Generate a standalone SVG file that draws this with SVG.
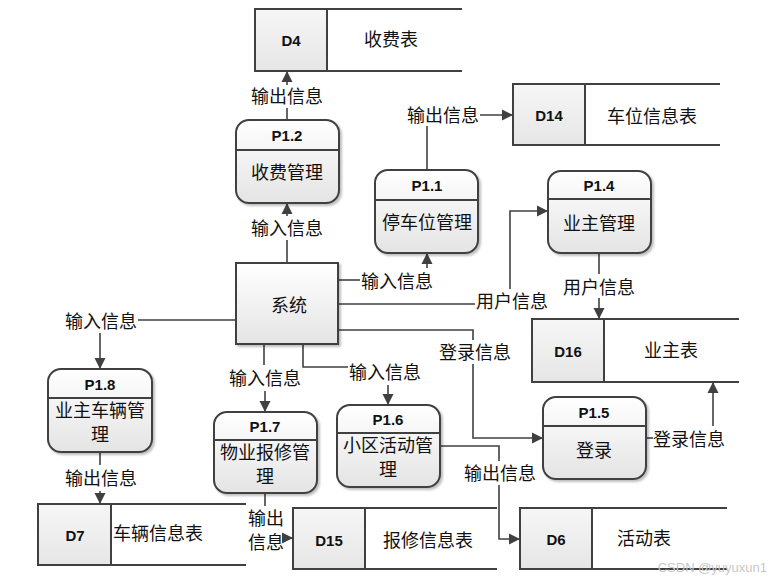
<svg xmlns="http://www.w3.org/2000/svg" width="782" height="584" viewBox="0 0 782 584">
<style>
.box{stroke:#404040;stroke-width:2;fill:url(#g)}
.sl{stroke:#404040;stroke-width:2;fill:none}
.dsl{stroke:#404040;stroke-width:2;fill:url(#gd)}
.c{stroke:#404040;stroke-width:1.6;fill:none}
.a{stroke:#404040;stroke-width:1.6;fill:none;marker-end:url(#ar)}
.zh{font-family:"Noto Sans CJK SC","Noto Sans",sans-serif;font-size:18px;fill:#111;text-anchor:middle;dominant-baseline:central}
.id{font-family:"Liberation Sans","DejaVu Sans",sans-serif;font-weight:bold;font-size:15px;fill:#111;text-anchor:middle;dominant-baseline:central}
.wm{font-family:"Liberation Sans",sans-serif;font-size:13px;fill:#c8c8c8;text-anchor:end}
</style>
<defs>
<linearGradient id="g" x1="0" y1="0" x2="0" y2="1"><stop offset="0" stop-color="#ffffff"/><stop offset="1" stop-color="#e4e4e4"/></linearGradient>
<linearGradient id="gd" x1="0" y1="0" x2="0" y2="1"><stop offset="0" stop-color="#f6f6f6"/><stop offset="1" stop-color="#e6e6e6"/></linearGradient>
<filter id="sh" x="-10%" y="-10%" width="125%" height="125%"><feDropShadow dx="2" dy="2" stdDeviation="1.2" flood-color="#000" flood-opacity="0.25"/></filter>
<marker id="ar" markerUnits="userSpaceOnUse" markerWidth="12" markerHeight="12" viewBox="0 0 12 12" refX="11" refY="6" orient="auto"><path d="M0,0.5 L11,6 L0,11.5 Z" fill="#404040"/></marker>
</defs>
<rect width="782" height="584" fill="#fff"/>

<g id="connectors">
<line class="c" x1="287" y1="263" x2="287" y2="240"/>
<line class="a" x1="287" y1="216" x2="287" y2="203"/>
<line class="c" x1="287" y1="120" x2="287" y2="108"/>
<line class="a" x1="287" y1="85" x2="287" y2="71"/>
<line class="c" x1="427" y1="170" x2="427" y2="126"/>
<line class="a" x1="480" y1="115" x2="513" y2="115"/>
<line class="c" x1="338" y1="280" x2="360" y2="280"/>
<line class="a" x1="427" y1="268" x2="427" y2="253"/>
<line class="c" x1="338" y1="304" x2="475" y2="304"/>
<polyline class="a" points="510,289 510,211 548,211"/>
<line class="c" x1="599" y1="253" x2="599" y2="274"/>
<line class="a" x1="599" y1="298" x2="599" y2="319"/>
<polyline class="c" points="338,330 473,330 473,340"/>
<polyline class="a" points="473,364 473,438 543,438"/>
<line class="c" x1="646" y1="438" x2="653" y2="438"/>
<line class="a" x1="713" y1="426" x2="713" y2="382"/>
<polyline class="c" points="303,344 303,367 348,367"/>
<line class="a" x1="388" y1="385" x2="388" y2="405"/>
<line class="c" x1="264" y1="344" x2="264" y2="365"/>
<line class="a" x1="265" y1="391" x2="265" y2="412"/>
<line class="c" x1="236" y1="320" x2="138" y2="320"/>
<line class="a" x1="100" y1="333" x2="100" y2="369"/>
<line class="c" x1="100" y1="452" x2="100" y2="465"/>
<line class="a" x1="100" y1="491" x2="100" y2="504"/>
<line class="c" x1="265" y1="493" x2="265" y2="506"/>
<line class="a" x1="282" y1="538" x2="293" y2="538"/>
<polyline class="c" points="440,446 499,446 499,461"/>
<polyline class="a" points="499,485 499,539 520,539"/>
</g>

<g id="labels">
<text class="zh" x="287" y="227">输入信息</text>
<text class="zh" x="287" y="95">输出信息</text>
<text class="zh" x="443" y="114">输出信息</text>
<text class="zh" x="397" y="280">输入信息</text>
<text class="zh" x="512" y="300">用户信息</text>
<text class="zh" x="599" y="286">用户信息</text>
<text class="zh" x="475" y="351">登录信息</text>
<text class="zh" x="689" y="438">登录信息</text>
<text class="zh" x="385" y="371">输入信息</text>
<text class="zh" x="265" y="377">输入信息</text>
<text class="zh" x="101" y="320">输入信息</text>
<text class="zh" x="101" y="477">输出信息</text>
<text class="zh" x="266" y="517">输出<tspan x="266" dy="24">信息</tspan></text>
<text class="zh" x="500" y="472">输出信息</text>
</g>

<g id="D4">
<polyline class="sl" points="462,9 255,9 255,71 462,71"/>
<rect class="dsl" x="255" y="9" width="72" height="62"/>
<text class="id" x="291" y="40">D4</text>
<text class="zh" x="391" y="38">收费表</text>
</g>
<g id="D14">
<polyline class="sl" points="720,84 513,84 513,145 720,145"/>
<rect class="dsl" x="513" y="84" width="72" height="61"/>
<text class="id" x="549" y="115">D14</text>
<text class="zh" x="652" y="115">车位信息表</text>
</g>
<g id="D16">
<polyline class="sl" points="739,319 532,319 532,382 739,382"/>
<rect class="dsl" x="532" y="319" width="72" height="63"/>
<text class="id" x="568" y="351">D16</text>
<text class="zh" x="671" y="349">业主表</text>
</g>
<g id="D7">
<polyline class="sl" points="246,504 38,504 38,565 246,565"/>
<rect class="dsl" x="38" y="504" width="73" height="61"/>
<text class="id" x="75" y="535">D7</text>
<text class="zh" x="158" y="532">车辆信息表</text>
</g>
<g id="D15">
<polyline class="sl" points="497,508 293,508 293,569 497,569"/>
<rect class="dsl" x="293" y="508" width="72" height="61"/>
<text class="id" x="329" y="540">D15</text>
<text class="zh" x="428" y="539">报修信息表</text>
</g>
<g id="D6">
<polyline class="sl" points="727,508 520,508 520,569 727,569"/>
<rect class="dsl" x="520" y="508" width="72" height="61"/>
<text class="id" x="556" y="539">D6</text>
<text class="zh" x="644" y="537">活动表</text>
</g>

<g id="system">
<rect class="box" x="236" y="263" width="102" height="81" filter="url(#sh)"/>
<text class="zh" x="289" y="304">系统</text>
</g>

<g id="P1.2">
<rect class="box" x="236" y="120" width="103" height="83" rx="13" filter="url(#sh)"/>
<line class="sl" x1="236" y1="150" x2="339" y2="150"/>
<text class="id" x="287" y="135">P1.2</text>
<text class="zh" x="287" y="171">收费管理</text>
</g>
<g id="P1.1">
<rect class="box" x="375" y="170" width="103" height="83" rx="13" filter="url(#sh)"/>
<line class="sl" x1="375" y1="200" x2="478" y2="200"/>
<text class="id" x="427" y="185">P1.1</text>
<text class="zh" x="427" y="221">停车位管理</text>
</g>
<g id="P1.4">
<rect class="box" x="548" y="171" width="103" height="82" rx="13" filter="url(#sh)"/>
<line class="sl" x1="548" y1="199" x2="651" y2="199"/>
<text class="id" x="599" y="185">P1.4</text>
<text class="zh" x="599" y="222">业主管理</text>
</g>
<g id="P1.5">
<rect class="box" x="543" y="397" width="103" height="82" rx="13" filter="url(#sh)"/>
<line class="sl" x1="543" y1="426" x2="646" y2="426"/>
<text class="id" x="594" y="412">P1.5</text>
<text class="zh" x="594" y="449">登录</text>
</g>
<g id="P1.6">
<rect class="box" x="337" y="405" width="103" height="82" rx="13" filter="url(#sh)"/>
<line class="sl" x1="337" y1="433" x2="440" y2="433"/>
<text class="id" x="388" y="419">P1.6</text>
<text class="zh" x="388" y="444">小区活动管<tspan x="388" dy="24">理</tspan></text>
</g>
<g id="P1.7">
<rect class="box" x="214" y="412" width="103" height="81" rx="13" filter="url(#sh)"/>
<line class="sl" x1="214" y1="440" x2="317" y2="440"/>
<text class="id" x="265" y="426">P1.7</text>
<text class="zh" x="265" y="451">物业报修管<tspan x="265" dy="24">理</tspan></text>
</g>
<g id="P1.8">
<rect class="box" x="48" y="369" width="104" height="83" rx="13" filter="url(#sh)"/>
<line class="sl" x1="48" y1="398" x2="152" y2="398"/>
<text class="id" x="100" y="384">P1.8</text>
<text class="zh" x="100" y="409">业主车辆管<tspan x="100" dy="24">理</tspan></text>
</g>

<text class="wm" x="767" y="572">CSDN @yuyuxun1</text>
</svg>
